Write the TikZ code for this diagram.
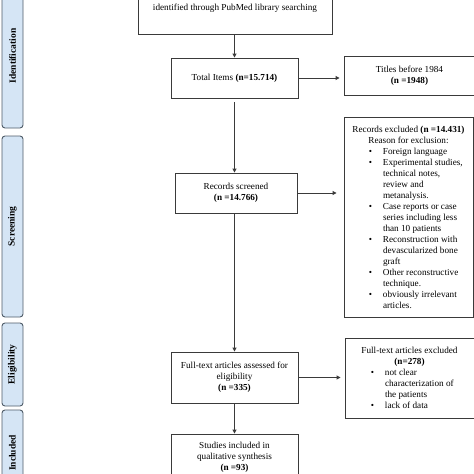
\documentclass[tikz,border=0pt]{standalone}
\usepackage{fontspec}
\setmainfont{Liberation Serif}
\usetikzlibrary{arrows.meta}
\definecolor{boxc}{HTML}{3A3A3A}
\definecolor{tabf}{HTML}{D5E5F5}
\definecolor{tabb}{HTML}{4F5C68}
\newcommand{\bl}{\noindent\llap{\textbullet\hspace{11pt}}}
\begin{document}
\begin{tikzpicture}[x=1pt,y=-1pt,
 box/.style={draw=boxc, line width=0.9pt, fill=white, align=center, font=\fontsize{9.2}{11}\selectfont, inner sep=2pt},
 tab/.style={draw=tabb, fill=tabf, rounded corners=3pt, line width=0.9pt, minimum width=21pt, inner sep=0pt, font=\fontsize{9.5}{11}\selectfont\bfseries},
 arr/.style={draw=boxc, line width=0.9pt, -{Triangle[length=4pt,width=4pt]}},
 ]
\useasboundingbox (0,0) rectangle (474,474);
\clip (0,0) rectangle (474,474);
% side tabs
\node[tab, minimum height=144pt] (t1) at (12.5,56) {\rotatebox{90}{Identification}};
\node[tab, minimum height=181pt] (t2) at (12.5,226.5) {\rotatebox{90}{Screening}};
\node[tab, minimum height=83pt] (t3) at (12.5,364.5) {\rotatebox{90}{Eligibility}};
\node[tab, minimum height=86pt] (t4) at (12.5,453) {\rotatebox{90}{Included}};
% boxes
\node[box, minimum width=194pt, minimum height=74pt] (top) at (235,-3) {};
\node[font=\fontsize{9.2}{11}\selectfont, inner sep=0pt] (toptext) at (235,8) {identified through PubMed library searching};
\node[box, minimum width=127pt, minimum height=40pt] (total) at (234.5,78) {Total Items \textbf{(n=15.714)}};
\node[box, minimum width=131pt, minimum height=39pt] (titles) at (409.5,75.5) {Titles before 1984\\\textbf{(n =1948)}};
\node[box, minimum width=129pt, minimum height=200pt] (recex) at (408.5,217) {\parbox{125pt}{\centering Records excluded \textbf{(n =14.431)}\\ Reason for exclusion:\par
\raggedright\leftskip=37pt
\bl Foreign language\par
\bl Experimental studies,\\ technical notes,\\ review and\\ metanalysis.\par
\bl Case reports or case\\ series including less\\ than 10 patients\par
\bl Reconstruction with\\ devascularized bone\\ graft\par
\bl Other reconstructive\\ technique.\par
\bl obviously irrelevant\\ articles.\par}};
\node[box, minimum width=122pt, minimum height=40pt] (screened) at (236,193) {Records screened\\\textbf{(n =14.766)}};
\node[box, minimum width=127pt, minimum height=51pt] (full) at (234.5,377.5) {Full-text articles assessed for\\eligibility\\\textbf{(n =335)}};
\node[box, minimum width=129pt, minimum height=80pt] (fullex) at (409.5,378) {\parbox{125pt}{\centering Full-text articles excluded\\ \textbf{(n=278)}\par
\raggedright\leftskip=38pt
\bl not clear\\ characterization of\\ the patients\par
\bl lack of data\par}};
\node[box, minimum width=127pt, minimum height=46pt] (studies) at (234.5,457) {Studies included in\\qualitative synthesis\\\textbf{(n =93)}};
% connectors
\draw[arr] (top.south -| total.north) -- (total.north);
\draw[arr, shorten >=4pt] (total.east) -- (total.east -| titles.west);
\draw[arr, shorten <=4pt] (total.south) -- (total.south |- screened.north);
\draw[arr, shorten >=7pt] (screened.east) -- (screened.east -| recex.west);
\draw[arr] (screened.south -| full.north) -- (full.north);
\draw[arr, shorten >=4pt] (full.east) -- (full.east -| fullex.west);
\draw[arr] (full.south) -- (studies.north);
\end{tikzpicture}
\end{document}
